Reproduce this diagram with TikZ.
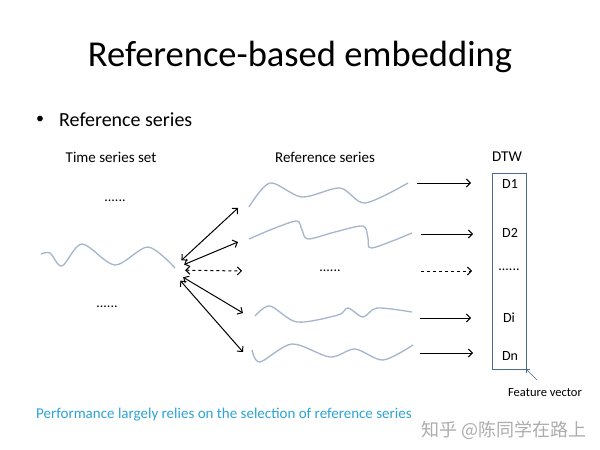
\documentclass[tikz,border=0pt]{standalone}
\usepackage{fontspec}
\setmainfont{Carlito}
\newfontfamily\cjk{Noto Sans CJK SC}
\usetikzlibrary{arrows.meta}
\definecolor{seriescol}{RGB}{165,181,204}
\definecolor{boxblue}{RGB}{74,106,144}
\definecolor{noteblue}{RGB}{46,163,214}
\tikzset{
  series/.style={seriescol, line width=1.3pt, smooth},
  link/.style={line width=1pt, -{Straight Barb[length=4pt,width=8pt]}},
  dlink/.style={line width=1pt, {Straight Barb[length=4pt,width=8pt]}-{Straight Barb[length=4pt,width=8pt]}},
  lbl/.style={font=\fontsize{14}{16}\selectfont, inner sep=0pt},
  head/.style={font=\fontsize{15}{17}\selectfont, inner sep=0pt},
}

\begin{document}
\begin{tikzpicture}[x=1pt, y=-1pt]
  \useasboundingbox[fill=white] (0,0) rectangle (600,450);

  \node (title) at (300,57) {\fontsize{36.5}{42}\selectfont Reference-based embedding};
  \node (dot) at (40,120) {\fontsize{16}{20}\selectfont\textbullet};
  \node (sub) [anchor=west, inner sep=0pt] at (59,120) {\fontsize{20}{24}\selectfont Reference series};

  \node (hset) [head] at (111,157) {Time series set};
  \node (href) [head] at (325,157) {Reference series};
  \node (hdtw) [head] at (507,157) {DTW};

  \node (m1) [lbl] at (115,201) {......};
  \node (m2) [lbl] at (107,307) {......};
  \node (m3) [lbl] at (330,271) {......};

  \node (vec) [draw=boxblue, line width=0.9pt, minimum width=34pt, minimum height=196pt] at (509,271) {};
    \node (d1) [lbl] at (510,184) {D1};
    \node (d2) [lbl] at (510,233) {D2};
    \node (dd) [lbl] at (509,270) {......};
    \node (di) [lbl] at (509,318) {Di};
    \node (dn) [lbl] at (510,356) {Dn};
  \node (fv) [lbl, font=\fontsize{12.5}{15}\selectfont] at (545,393) {Feature vector};
  \coordinate (ptr) at (537,380);

  \node (hub) [circle, minimum size=28pt, inner sep=0pt] at (171,270) {};
  \coordinate (r1) at (238,208);
  \coordinate (r2) at (238,242);
  \coordinate (r3) at (242,271);
  \coordinate (r4) at (243,313);
  \coordinate (r5) at (243,352);

  \coordinate (s1) at (417,183); \coordinate (e1) at (471,183);
  \coordinate (s2) at (421,234); \coordinate (e2) at (473,234);
  \coordinate (s3) at (421,271); \coordinate (e3) at (472,271);
  \coordinate (s4) at (420,318); \coordinate (e4) at (471,318);
  \coordinate (s5) at (420,353); \coordinate (e5) at (473,353);

  \draw[series] plot coordinates {(41,254) (50,253) (62,266) (82,244) (115,265) (148,247) (175,268)};
  \draw[series] plot coordinates {(249,207) (270,183) (302,197) (340,188) (365,203) (408,183)};
  \draw[series] plot coordinates {(249,239) (275,228) (297,221) (302,230) (308,239) (335,232) (363,226) (368,238) (372,248) (412,233)};
  \draw[series] plot coordinates {(255,316) (270,306) (297,322) (338,315) (348,308) (363,317) (377,308) (412,312)};
  \draw[series] plot coordinates {(252,350) (260,362) (292,344) (330,357) (355,349) (383,360) (413,345)};

  \draw[dlink] (hub) -- (r1);
  \draw[dlink] (hub) -- (r2);
  \draw[dlink, dashed] (hub) -- (r3);
  \draw[dlink] (hub) -- (r4);
  \draw[dlink] (hub) -- (r5);

  \draw[link] (s1) -- (e1);
  \draw[link] (s2) -- (e2);
  \draw[link, dashed] (s3) -- (e3);
  \draw[link] (s4) -- (e4);
  \draw[link] (s5) -- (e5);

  \draw[boxblue, line width=0.6pt, -{Straight Barb[length=2.5pt,width=5pt]}] (ptr) -- (vec.south east);

  \node (note) [anchor=west, inner sep=0pt, text=noteblue, font=\fontsize{15}{17}\selectfont] at (36,415) {Performance largely relies on the selection of reference series};
  \node (mark) [anchor=west, inner sep=0pt, text=black!32, font=\fontsize{18}{20}\selectfont] at (421,430) {\cjk 知乎 @陈同学在路上};
\end{tikzpicture}
\end{document}
